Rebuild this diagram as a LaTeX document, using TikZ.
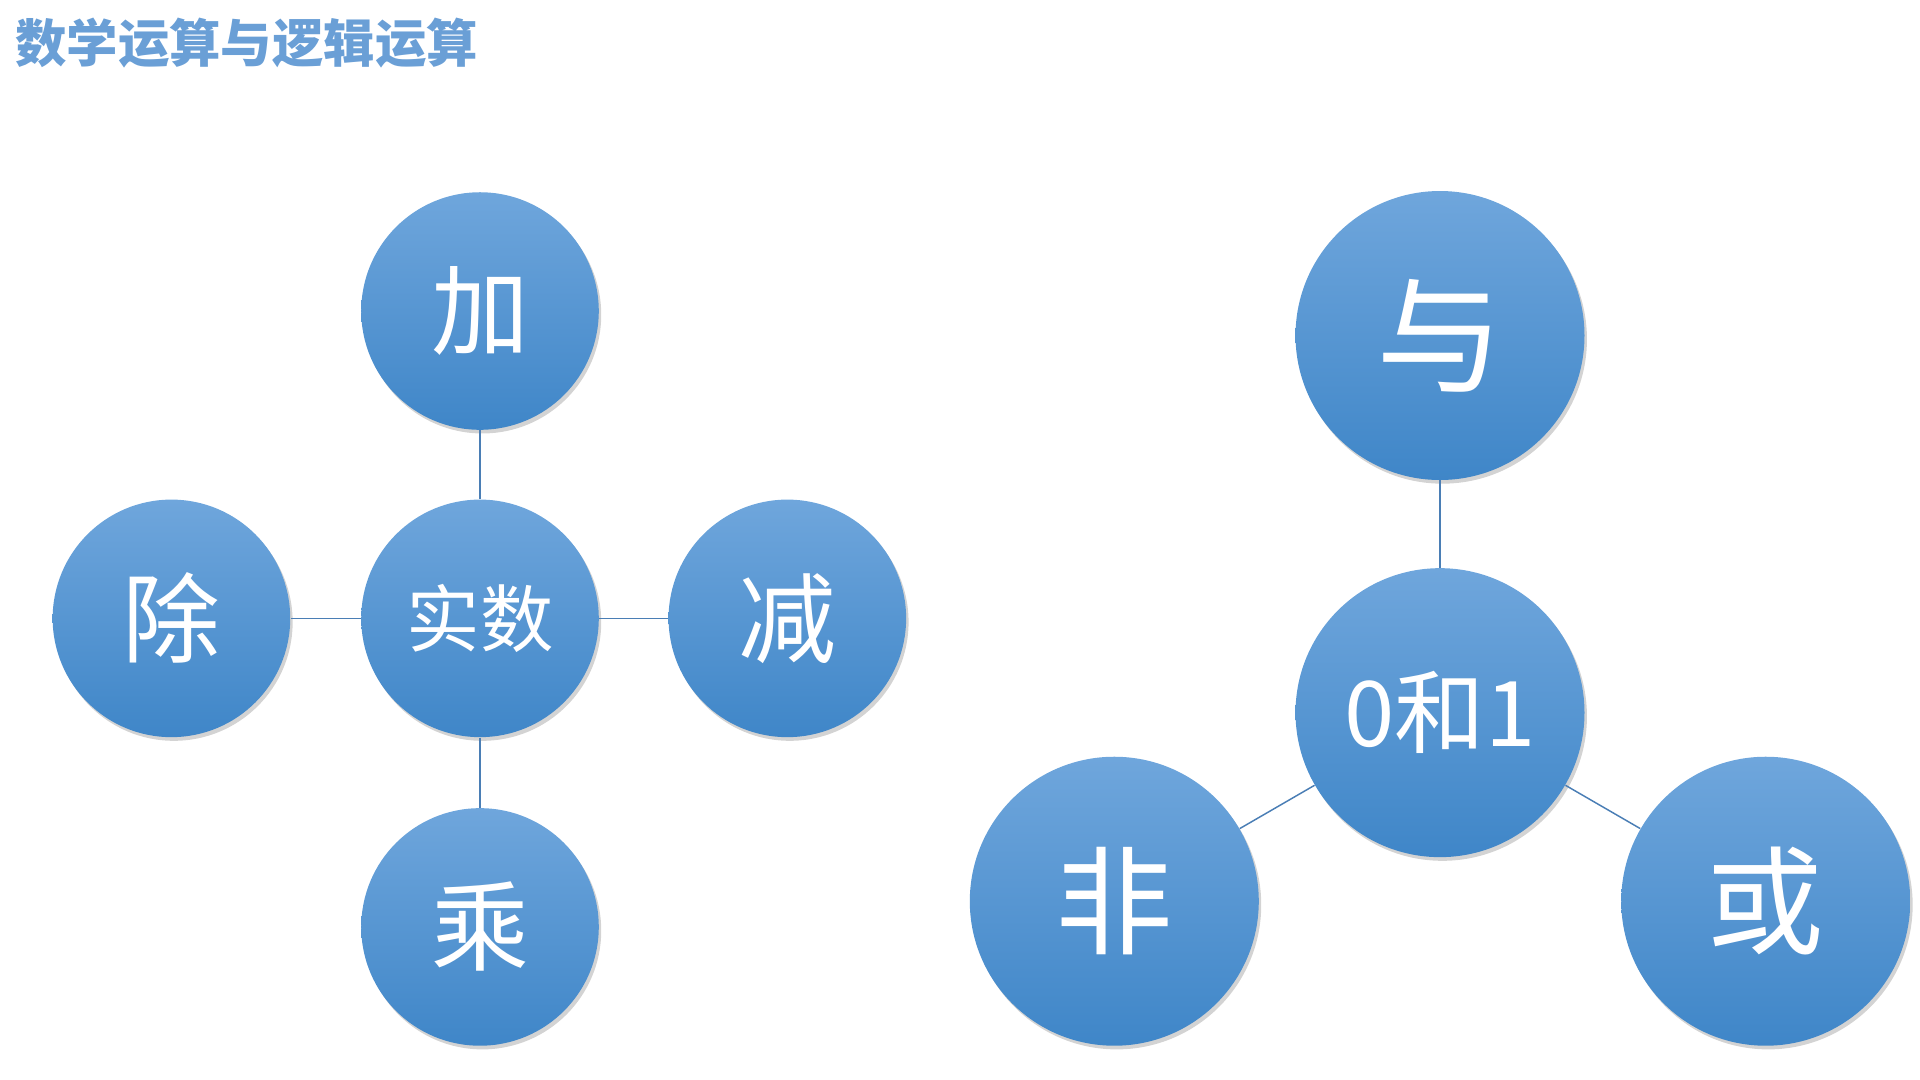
\documentclass[tikz,border=0pt]{standalone}
\usepackage{fontspec}
\newfontfamily\cjk{Noto Sans CJK SC}
\usetikzlibrary{shadows}
\definecolor{ctop}{HTML}{6FA6DC}
\definecolor{cbot}{HTML}{3F86C8}
\definecolor{tcol}{HTML}{6A9FD6}
\definecolor{lcol}{HTML}{4A7EB5}
\tikzset{
 ball/.style={circle,minimum size=#1,inner sep=0pt,top color=ctop,bottom color=cbot,middle color=ctop!50!cbot,
   drop shadow={shadow xshift=1pt,shadow yshift=-1.5pt,opacity=0.35},text=white,font=\cjk},
 link/.style={draw=lcol,line width=0.6pt}
}
\begin{document}
\begin{tikzpicture}[x=0.5pt,y=-0.5pt]
\useasboundingbox (0,0) rectangle (1568,882);
\node[anchor=west,text=tcol,font=\cjk\bfseries\fontsize{21}{24}\selectfont,inner sep=0pt] (title) at (12,35) {数学运算与逻辑运算};
\node[ball=97pt,font=\cjk\fontsize{30}{32}\selectfont] (c) at (392,505) {实数};
\node[ball=97pt,font=\cjk\fontsize{40}{42}\selectfont] (a) at (392,254) {加};
\node[ball=97pt,font=\cjk\fontsize{40}{42}\selectfont] (d) at (140,505) {除};
\node[ball=97pt,font=\cjk\fontsize{40}{42}\selectfont] (s) at (643,505) {减};
\node[ball=97pt,font=\cjk\fontsize{40}{42}\selectfont] (m) at (392,757) {乘};
\node[ball=118pt,font=\cjk\fontsize{37}{40}\selectfont] (z) at (1176,582) {0和1};
\node[ball=118pt,font=\cjk\fontsize{52}{54}\selectfont] (y) at (1176,274) {与};
\node[ball=118pt,font=\cjk\fontsize{48}{50}\selectfont] (f) at (910,736) {非};
\node[ball=118pt,font=\cjk\fontsize{48}{50}\selectfont] (h) at (1442,736) {或};
\begin{scope}[on background layer/.style={}]
\end{scope}
\draw[link] (c) -- (a);
\draw[link] (c) -- (d);
\draw[link] (c) -- (s);
\draw[link] (c) -- (m);
\draw[link] (z) -- (y);
\draw[link] (z) -- (f);
\draw[link] (z) -- (h);
\end{tikzpicture}
\end{document}
